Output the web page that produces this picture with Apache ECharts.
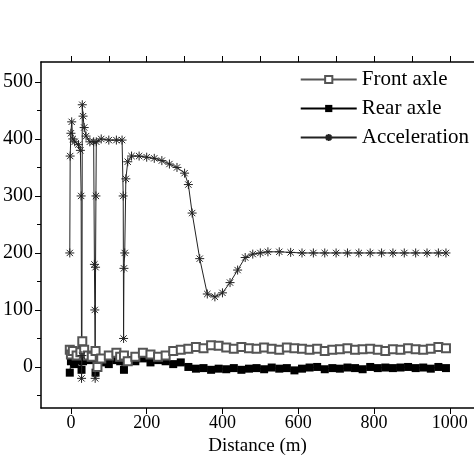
<!DOCTYPE html><html><head><meta charset="utf-8">
<script src="https://cdn.jsdelivr.net/npm/echarts@6/dist/echarts.min.js"></script>
<style>html,body{margin:0;background:#fff}#c{width:474px;height:474px}</style></head><body><div id="c"></div>
<script>
const xTicks=[0,200,400,600,800,1000];
const yTicks=[0,100,200,300,400,500];
const seriesNames=['Front axle','Rear axle','Acceleration'];
const front=[[-3,30],[0,22],[5,28],[15,20],[25,26],[30,45],[35,30],[45,20],[55,18],[65,28],[70,0],[80,15],[100,20],[120,25],[130,18],[140,20],[150,10],[170,18],[190,25],[210,22],[230,18],[250,20],[270,28],[290,30],[310,32],[330,35],[350,33],[370,38],[390,37],[410,34],[430,32],[450,35],[470,33],[490,32],[510,34],[530,32],[550,30],[570,34],[590,33],[610,32],[630,30],[650,32],[670,28],[690,30],[710,31],[730,33],[750,30],[770,31],[790,32],[810,30],[830,28],[850,31],[870,30],[890,33],[910,31],[930,30],[950,32],[970,35],[990,33]];
const rear=[[-3,-10],[0,10],[5,18],[10,5],[15,20],[20,12],[25,15],[28,-5],[30,40],[32,10],[40,15],[50,12],[60,18],[65,-10],[70,10],[80,8],[90,15],[100,5],[110,18],[120,12],[130,10],[140,-5],[150,12],[170,10],[190,15],[210,8],[230,12],[250,10],[270,5],[290,8],[310,0],[330,-3],[350,-2],[370,-5],[390,-3],[410,-4],[430,-2],[450,-5],[470,-3],[490,-2],[510,-4],[530,-1],[550,-3],[570,-2],[590,-6],[610,-3],[630,-1],[650,0],[670,-4],[690,-2],[710,-3],[730,-1],[750,-2],[770,-4],[790,0],[810,-2],[830,-1],[850,-2],[870,-1],[890,0],[910,-2],[930,-1],[950,-3],[970,0],[990,-2]];
const accel=[[-3,200],[-2,370],[0,410],[2,430],[5,400],[10,395],[20,390],[25,380],[27,300],[28,-20],[29,20],[30,460],[32,440],[35,420],[40,405],[50,395],[60,395],[62,180],[63,100],[64,-20],[65,175],[66,300],[67,395],[80,400],[100,398],[120,398],[135,398],[138,300],[139,50],[140,173],[142,200],[145,330],[150,360],[160,370],[180,370],[200,368],[220,366],[240,362],[260,356],[280,350],[300,340],[310,320],[320,270],[340,190],[360,128],[380,123],[400,130],[420,148],[440,170],[460,192],[480,198],[500,200],[520,202],[550,202],[580,201],[610,200],[640,200],[670,200],[700,200],[730,200],[760,200],[790,200],[820,200],[850,200],[880,200],[910,200],[940,200],[970,200],[990,200]];
const star='path://M0,-10L0,10M-10,0L10,0M-7,-7L7,7M-7,7L7,-7';
const font='Liberation Serif';
const ch=echarts.init(document.getElementById('c'));
const line={show:true,onZero:false,lineStyle:{color:'#000',width:1.5}};
const tick=v=>({customValues:v,inside:false,length:6,lineStyle:{color:'#000'}});
ch.setOption({
 animation:false,
 grid:{left:20,right:-10,top:62,bottom:66,containLabel:false},
 legend:{right:0,top:64,orient:'vertical',itemWidth:56,itemHeight:9,itemGap:8,textStyle:{fontFamily:font,fontSize:21,color:'#000'},data:seriesNames},
 xAxis:[{type:'value',min:-79,max:1064,name:'Distance (m)',nameLocation:'middle',nameGap:28,nameTextStyle:{fontFamily:font,fontSize:19,color:'#000'},axisLine:line,axisTick:tick(xTicks),splitLine:{show:false},axisLabel:{customValues:xTicks,formatter:v=>String(v),fontFamily:font,fontSize:18,color:'#000',margin:6}},
  {type:'value',position:'top',min:-79,max:1064,axisLine:line,axisTick:tick([0,100,200,300,400,500,600,700,800,900,1000]),splitLine:{show:false},axisLabel:{show:false}}],
 yAxis:{type:'value',min:-72,max:535,axisLine:line,axisTick:tick(yTicks),minorTick:{show:true,splitNumber:2,length:4,lineStyle:{color:'#000'}},splitLine:{show:false},minorSplitLine:{show:false},axisLabel:{customValues:yTicks,formatter:v=>String(v),fontFamily:font,fontSize:20,color:'#000',margin:8}},
 series:[
  {name:seriesNames[0],type:'line',data:front,symbol:'emptyRect',symbolSize:8,z:3,lineStyle:{color:'#555',width:1,type:'solid'},itemStyle:{color:'#555',borderColor:'#555',borderWidth:1}},
  {name:seriesNames[1],type:'line',data:rear,symbol:'rect',symbolSize:8,z:2,lineStyle:{color:'#000',width:1},itemStyle:{color:'#000'}},
  {name:seriesNames[2],type:'line',data:accel,symbol:star,symbolSize:9,lineStyle:{color:'#222',width:1},itemStyle:{color:'#222',borderColor:'#222',borderWidth:1}}
 ]
});
</script></body></html>
